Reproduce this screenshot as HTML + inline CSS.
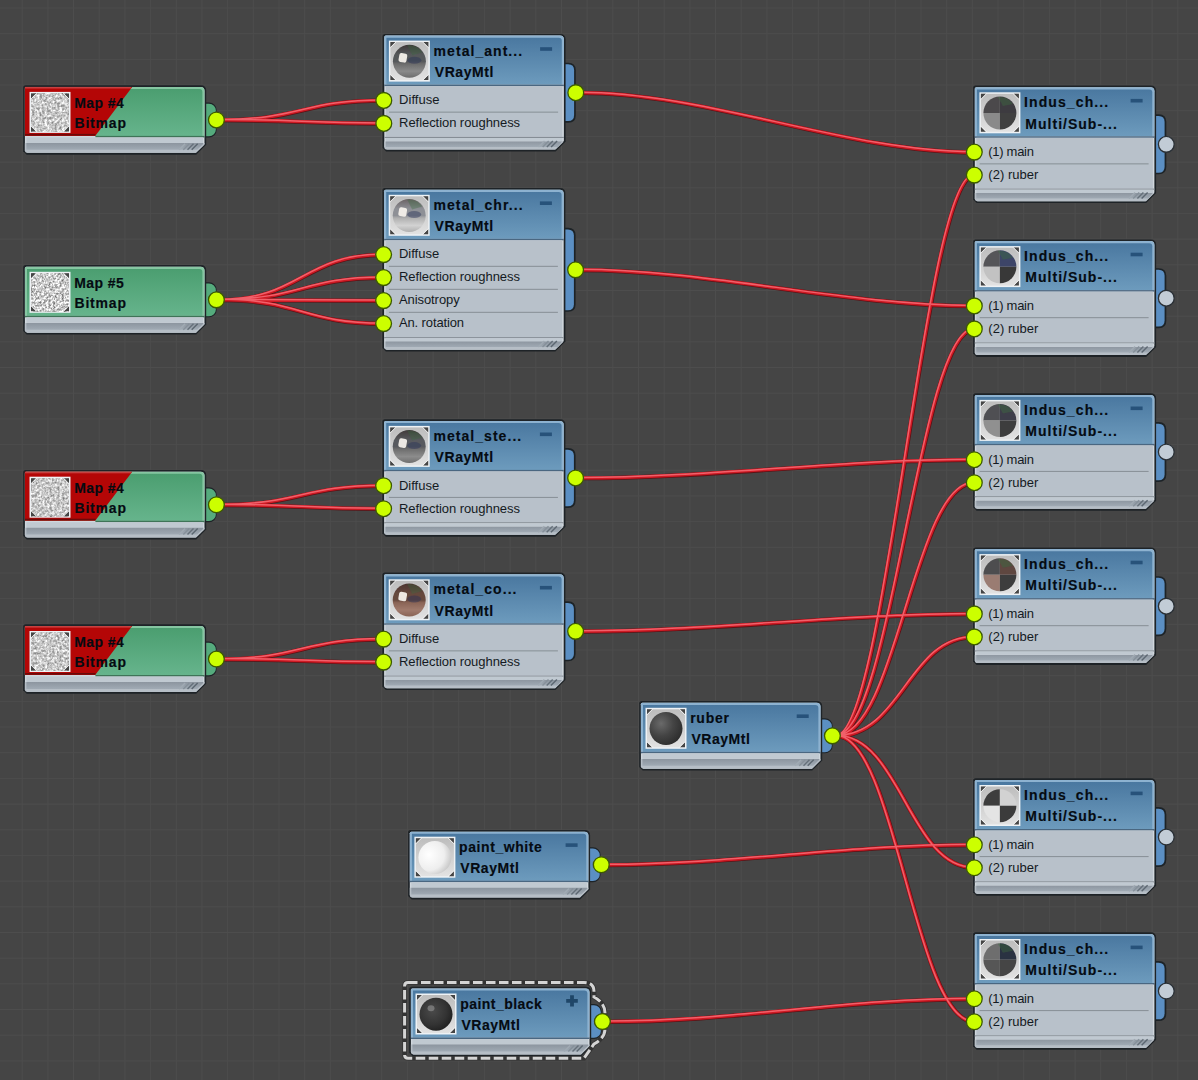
<!DOCTYPE html><html><head><meta charset="utf-8"><style>html,body{margin:0;padding:0;background:#454545;overflow:hidden}svg{display:block}text{font-family:"Liberation Sans",sans-serif}</style></head><body>
<svg width="1198" height="1080" viewBox="0 0 1198 1080">
<defs>
<linearGradient id="gBlue" x1="0" y1="0" x2="0" y2="1"><stop offset="0" stop-color="#4a78a0"/><stop offset="1" stop-color="#6d9bbd"/></linearGradient>
<linearGradient id="gGreen" x1="0" y1="0" x2="0" y2="1"><stop offset="0" stop-color="#4b9e70"/><stop offset="1" stop-color="#66b48c"/></linearGradient>
<linearGradient id="gFoot" x1="0" y1="0" x2="0" y2="1"><stop offset="0" stop-color="#8c959f"/><stop offset="1" stop-color="#a0aab4"/></linearGradient>
<radialGradient id="gMetal" cx="0.4" cy="0.35" r="0.65"><stop offset="0" stop-color="#f0f0f0"/><stop offset="0.2" stop-color="#8a8a8a"/><stop offset="0.7" stop-color="#5a5a5a"/><stop offset="1" stop-color="#3a3a3a"/></radialGradient>
<filter id="fb" x="-10%" y="-10%" width="120%" height="120%"><feGaussianBlur stdDeviation="0.6"/></filter><filter id="fn" x="0" y="0" width="100%" height="100%" color-interpolation-filters="sRGB"><feTurbulence type="fractalNoise" baseFrequency="0.4" numOctaves="3" seed="4"/><feColorMatrix type="matrix" values="0.85 0 0 0 0.36  0.85 0 0 0 0.36  0.85 0 0 0 0.36  0 0 0 0 1"/></filter><filter id="fn2" x="0" y="0" width="100%" height="100%" color-interpolation-filters="sRGB"><feTurbulence type="fractalNoise" baseFrequency="0.45" numOctaves="3" seed="9"/><feColorMatrix type="matrix" values="1.15 0 0 0 0.22  1.15 0 0 0 0.22  1.15 0 0 0 0.22  0 0 0 0 1"/></filter><linearGradient id="tBg" x1="0" y1="0" x2="0" y2="1"><stop offset="0" stop-color="#bdbdbd"/><stop offset="1" stop-color="#e2e2e2"/></linearGradient><linearGradient id="sAnt" x1="0" y1="0" x2="0" y2="1"><stop offset="0" stop-color="#3e3838"/><stop offset="0.3" stop-color="#55585a"/><stop offset="0.5" stop-color="#55585a"/><stop offset="0.58" stop-color="#6c6c6c"/><stop offset="0.8" stop-color="#8a8a8a"/><stop offset="1" stop-color="#6c6c6c"/></linearGradient><linearGradient id="sChr" x1="0" y1="0" x2="0" y2="1"><stop offset="0" stop-color="#6a6264"/><stop offset="0.3" stop-color="#8e9096"/><stop offset="0.5" stop-color="#8e9096"/><stop offset="0.58" stop-color="#b0b0b0"/><stop offset="0.8" stop-color="#d2d2d2"/><stop offset="1" stop-color="#b0b0b0"/></linearGradient><linearGradient id="sSte" x1="0" y1="0" x2="0" y2="1"><stop offset="0" stop-color="#403a3a"/><stop offset="0.3" stop-color="#585a5e"/><stop offset="0.5" stop-color="#585a5e"/><stop offset="0.58" stop-color="#6e6e6e"/><stop offset="0.8" stop-color="#8c8c8c"/><stop offset="1" stop-color="#6e6e6e"/></linearGradient><linearGradient id="sCo" x1="0" y1="0" x2="0" y2="1"><stop offset="0" stop-color="#4c3430"/><stop offset="0.3" stop-color="#66483e"/><stop offset="0.5" stop-color="#66483e"/><stop offset="0.58" stop-color="#8a6456"/><stop offset="0.8" stop-color="#a07a6c"/><stop offset="1" stop-color="#8a6456"/></linearGradient><radialGradient id="sRub" cx="0.35" cy="0.35" r="0.75"><stop offset="0" stop-color="#6a6a6a"/><stop offset="0.5" stop-color="#444"/><stop offset="1" stop-color="#2a2a2a"/></radialGradient><radialGradient id="sWhite" cx="0.32" cy="0.42" r="0.85"><stop offset="0" stop-color="#ffffff"/><stop offset="0.55" stop-color="#eeeeee"/><stop offset="0.85" stop-color="#c4c4c4"/><stop offset="1" stop-color="#9a9a9a"/></radialGradient><radialGradient id="sBlack" cx="0.4" cy="0.4" r="0.7"><stop offset="0" stop-color="#4a4a4a"/><stop offset="0.6" stop-color="#333"/><stop offset="1" stop-color="#1c1c1c"/></radialGradient><radialGradient id="hl" cx="0.5" cy="0.5" r="0.5"><stop offset="0" stop-color="#fff" stop-opacity="1"/><stop offset="0.6" stop-color="#fff" stop-opacity="0.8"/><stop offset="1" stop-color="#fff" stop-opacity="0"/></radialGradient>
</defs>
<rect width="1198" height="1080" fill="#454545"/>
<path d="M-3.5 0V1080M22.2 0V1080M47.9 0V1080M73.5 0V1080M99.2 0V1080M124.9 0V1080M150.6 0V1080M176.3 0V1080M201.9 0V1080M227.6 0V1080M253.3 0V1080M279.0 0V1080M304.7 0V1080M330.3 0V1080M356.0 0V1080M381.7 0V1080M407.4 0V1080M433.1 0V1080M458.7 0V1080M484.4 0V1080M510.1 0V1080M535.8 0V1080M561.5 0V1080M587.1 0V1080M612.8 0V1080M638.5 0V1080M664.2 0V1080M689.9 0V1080M715.5 0V1080M741.2 0V1080M766.9 0V1080M792.6 0V1080M818.3 0V1080M843.9 0V1080M869.6 0V1080M895.3 0V1080M921.0 0V1080M946.7 0V1080M972.3 0V1080M998.0 0V1080M1023.7 0V1080M1049.4 0V1080M1075.1 0V1080M1100.7 0V1080M1126.4 0V1080M1152.1 0V1080M1177.8 0V1080M0 8.0H1198M0 33.7H1198M0 59.4H1198M0 85.0H1198M0 110.7H1198M0 136.4H1198M0 162.1H1198M0 187.8H1198M0 213.4H1198M0 239.1H1198M0 264.8H1198M0 290.5H1198M0 316.2H1198M0 341.8H1198M0 367.5H1198M0 393.2H1198M0 418.9H1198M0 444.6H1198M0 470.2H1198M0 495.9H1198M0 521.6H1198M0 547.3H1198M0 573.0H1198M0 598.6H1198M0 624.3H1198M0 650.0H1198M0 675.7H1198M0 701.4H1198M0 727.0H1198M0 752.7H1198M0 778.4H1198M0 804.1H1198M0 829.8H1198M0 855.4H1198M0 881.1H1198M0 906.8H1198M0 932.5H1198M0 958.2H1198M0 983.8H1198M0 1009.5H1198M0 1035.2H1198M0 1060.9H1198" stroke="#4d4d4d" stroke-width="1" fill="none"/>
<path d="M220.40 119.95C301.42 119.95 302.78 100.40 383.80 100.40M220.40 119.95C301.98 119.95 302.22 123.40 383.80 123.40M220.40 299.85C300.42 299.85 303.58 254.60 383.60 254.60M220.40 299.85C301.22 299.85 302.78 277.60 383.60 277.60M220.40 299.85C301.97 299.85 302.03 300.60 383.60 300.60M220.40 299.85C301.17 299.85 302.83 323.60 383.60 323.60M220.40 504.75C301.33 504.75 302.67 485.70 383.60 485.70M220.40 504.75C301.86 504.75 302.14 508.70 383.60 508.70M220.40 659.05C301.30 659.05 302.70 639.10 383.60 639.10M220.40 659.05C301.89 659.05 302.11 662.10 383.60 662.10M579.80 92.65C707.72 92.65 846.38 152.10 974.30 152.10M579.60 269.85C708.34 269.85 845.56 305.90 974.30 305.90M579.60 477.95C708.96 477.95 844.94 459.70 974.30 459.70M579.60 631.35C708.99 631.35 844.91 613.90 974.30 613.90M605.30 864.75C734.60 864.75 845.00 844.80 974.30 844.80M606.40 1021.55C735.60 1021.55 845.10 998.80 974.30 998.80M836.40 735.85C885.72 735.85 924.98 175.10 974.30 175.10M836.40 735.85C891.11 735.85 919.59 328.90 974.30 328.90M836.40 735.85C896.49 735.85 914.21 482.70 974.30 482.70M836.40 735.85C901.89 735.85 908.81 636.90 974.30 636.90M836.40 735.85C900.73 735.85 909.97 867.80 974.30 867.80M836.40 735.85C895.34 735.85 915.36 1021.80 974.30 1021.80" stroke="#5e1014" stroke-width="4.2" fill="none" transform="translate(0.3 0.3)"/>
<path d="M220.40 119.95C301.42 119.95 302.78 100.40 383.80 100.40M220.40 119.95C301.98 119.95 302.22 123.40 383.80 123.40M220.40 299.85C300.42 299.85 303.58 254.60 383.60 254.60M220.40 299.85C301.22 299.85 302.78 277.60 383.60 277.60M220.40 299.85C301.97 299.85 302.03 300.60 383.60 300.60M220.40 299.85C301.17 299.85 302.83 323.60 383.60 323.60M220.40 504.75C301.33 504.75 302.67 485.70 383.60 485.70M220.40 504.75C301.86 504.75 302.14 508.70 383.60 508.70M220.40 659.05C301.30 659.05 302.70 639.10 383.60 639.10M220.40 659.05C301.89 659.05 302.11 662.10 383.60 662.10M579.80 92.65C707.72 92.65 846.38 152.10 974.30 152.10M579.60 269.85C708.34 269.85 845.56 305.90 974.30 305.90M579.60 477.95C708.96 477.95 844.94 459.70 974.30 459.70M579.60 631.35C708.99 631.35 844.91 613.90 974.30 613.90M605.30 864.75C734.60 864.75 845.00 844.80 974.30 844.80M606.40 1021.55C735.60 1021.55 845.10 998.80 974.30 998.80M836.40 735.85C885.72 735.85 924.98 175.10 974.30 175.10M836.40 735.85C891.11 735.85 919.59 328.90 974.30 328.90M836.40 735.85C896.49 735.85 914.21 482.70 974.30 482.70M836.40 735.85C901.89 735.85 908.81 636.90 974.30 636.90M836.40 735.85C900.73 735.85 909.97 867.80 974.30 867.80M836.40 735.85C895.34 735.85 915.36 1021.80 974.30 1021.80" stroke="#d01a24" stroke-width="3.3" fill="none"/>
<path d="M220.40 119.95C301.42 119.95 302.78 100.40 383.80 100.40M220.40 119.95C301.98 119.95 302.22 123.40 383.80 123.40M220.40 299.85C300.42 299.85 303.58 254.60 383.60 254.60M220.40 299.85C301.22 299.85 302.78 277.60 383.60 277.60M220.40 299.85C301.97 299.85 302.03 300.60 383.60 300.60M220.40 299.85C301.17 299.85 302.83 323.60 383.60 323.60M220.40 504.75C301.33 504.75 302.67 485.70 383.60 485.70M220.40 504.75C301.86 504.75 302.14 508.70 383.60 508.70M220.40 659.05C301.30 659.05 302.70 639.10 383.60 639.10M220.40 659.05C301.89 659.05 302.11 662.10 383.60 662.10M579.80 92.65C707.72 92.65 846.38 152.10 974.30 152.10M579.60 269.85C708.34 269.85 845.56 305.90 974.30 305.90M579.60 477.95C708.96 477.95 844.94 459.70 974.30 459.70M579.60 631.35C708.99 631.35 844.91 613.90 974.30 613.90M605.30 864.75C734.60 864.75 845.00 844.80 974.30 844.80M606.40 1021.55C735.60 1021.55 845.10 998.80 974.30 998.80M836.40 735.85C885.72 735.85 924.98 175.10 974.30 175.10M836.40 735.85C891.11 735.85 919.59 328.90 974.30 328.90M836.40 735.85C896.49 735.85 914.21 482.70 974.30 482.70M836.40 735.85C901.89 735.85 908.81 636.90 974.30 636.90M836.40 735.85C900.73 735.85 909.97 867.80 974.30 867.80M836.40 735.85C895.34 735.85 915.36 1021.80 974.30 1021.80" stroke="#f0606a" stroke-width="1.5" fill="none" transform="translate(-0.5 -0.5)"/>
<path d="M202.20 102.45H209.00A7.7 7.7 0 0 1 209.00 117.85V122.05A7.7 7.7 0 0 1 209.00 137.45H202.20Z" fill="#1d2327"/><path d="M202.20 103.65H209.00A6.9 6.9 0 0 1 209.00 117.45V122.45A6.9 6.9 0 0 1 209.00 136.25H202.20Z" fill="#55ab7d"/><path d="M25.70 85.20H200.70Q206.20 85.20 206.20 90.70V144.70L196.20 154.70H26.70L23.20 151.20V87.70Q23.20 85.20 25.70 85.20Z" fill="#1e2327"/><path d="M26.40 86.90H200.50Q204.50 86.90 204.50 90.90V144.00L195.70 152.80H27.40L24.90 150.30V88.40Q24.90 86.90 26.40 86.90Z" fill="#d0d7dd"/><path d="M26.40 86.90H200.50Q204.50 86.90 204.50 90.90V135.90H24.90V88.40Q24.90 86.90 26.40 86.90Z" fill="#86c6a2"/><path d="M27.00 89.00H199.40Q202.40 89.00 202.40 92.00V135.90H27.00V89.00Z" fill="url(#gGreen)"/><path d="M24.90 86.90H132.20L95.20 135.90H24.90V86.90Z" fill="#b40606"/><rect x="24.90" y="86.90" width="106" height="1.6" fill="#c84040"/><rect x="24.90" y="133.90" width="70.50" height="1.6" fill="#6a0a0a"/><rect x="95.40" y="135.90" width="109.10" height="1.5" fill="#3f7458"/><path d="M24.90 143.00H204.50V144.70L196.20 152.80H27.70Q24.90 152.80 24.90 150.20Z" fill="#b6bec6"/><rect x="26.40" y="137.40" width="176.60" height="5.60" fill="#c0c9d1"/><path d="M26.40 143.00H203.00V144.20L197.20 149.80H26.40Z" fill="url(#gFoot)"/><path d="M191.70 149.80l6 -6" stroke="#5d6872" stroke-width="1.4"/><path d="M187.50 149.80l6 -6" stroke="#66717b" stroke-width="1.4"/><path d="M183.30 149.80l6 -6" stroke="#86909a" stroke-width="1.4"/><path d="M179.10 149.80l6 -6" stroke="#a0aab3" stroke-width="1.4"/><rect x="29.50" y="91.90" width="41" height="41" fill="#eef2f5"/><rect x="31.00" y="93.40" width="38" height="38" fill="url(#tBg)"/><rect x="31.00" y="93.40" width="38" height="38" fill="#ccc" filter="url(#fn)"/><path d="M31.00 93.40h5.0L31.00 98.40z" fill="#454545"/><path d="M36.60 93.40l-5.6 5.6" stroke="#f4f4f4" stroke-width="1" opacity="0.85"/><path d="M69.00 93.40h-5.0L69.00 98.40z" fill="#454545"/><path d="M63.40 93.40l5.6 5.6" stroke="#f4f4f4" stroke-width="1" opacity="0.85"/><path d="M31.00 131.40h5.0L31.00 126.40z" fill="#454545"/><path d="M36.60 131.40l-5.6 -5.6" stroke="#f4f4f4" stroke-width="1" opacity="0.85"/><path d="M69.00 131.40h-5.0L69.00 126.40z" fill="#454545"/><path d="M63.40 131.40l5.6 -5.6" stroke="#f4f4f4" stroke-width="1" opacity="0.85"/><text x="74.20" y="108.00" font-size="14" font-weight="bold" textLength="49.5" lengthAdjust="spacing" fill="#050b12" stroke="#050b12" stroke-width="0.15">Map #4</text><text x="74.50" y="127.80" font-size="14" font-weight="bold" textLength="51.5" lengthAdjust="spacing" fill="#050b12" stroke="#050b12" stroke-width="0.15">Bitmap</text>
<path d="M202.20 282.35H209.00A7.7 7.7 0 0 1 209.00 297.75V301.95A7.7 7.7 0 0 1 209.00 317.35H202.20Z" fill="#1d2327"/><path d="M202.20 283.55H209.00A6.9 6.9 0 0 1 209.00 297.35V302.35A6.9 6.9 0 0 1 209.00 316.15H202.20Z" fill="#55ab7d"/><path d="M25.70 265.10H200.70Q206.20 265.10 206.20 270.60V324.60L196.20 334.60H26.70L23.20 331.10V267.60Q23.20 265.10 25.70 265.10Z" fill="#1e2327"/><path d="M26.40 266.80H200.50Q204.50 266.80 204.50 270.80V323.90L195.70 332.70H27.40L24.90 330.20V268.30Q24.90 266.80 26.40 266.80Z" fill="#d0d7dd"/><path d="M26.40 266.80H200.50Q204.50 266.80 204.50 270.80V315.80H24.90V268.30Q24.90 266.80 26.40 266.80Z" fill="#86c6a2"/><path d="M27.00 268.90H199.40Q202.40 268.90 202.40 271.90V315.80H27.00V268.90Z" fill="url(#gGreen)"/><rect x="24.90" y="315.80" width="179.60" height="1.5" fill="#3f7458"/><path d="M24.90 322.90H204.50V324.60L196.20 332.70H27.70Q24.90 332.70 24.90 330.10Z" fill="#b6bec6"/><rect x="26.40" y="317.30" width="176.60" height="5.60" fill="#c0c9d1"/><path d="M26.40 322.90H203.00V324.10L197.20 329.70H26.40Z" fill="url(#gFoot)"/><path d="M191.70 329.70l6 -6" stroke="#5d6872" stroke-width="1.4"/><path d="M187.50 329.70l6 -6" stroke="#66717b" stroke-width="1.4"/><path d="M183.30 329.70l6 -6" stroke="#86909a" stroke-width="1.4"/><path d="M179.10 329.70l6 -6" stroke="#a0aab3" stroke-width="1.4"/><rect x="29.50" y="271.80" width="41" height="41" fill="#eef2f5"/><rect x="31.00" y="273.30" width="38" height="38" fill="url(#tBg)"/><rect x="31.00" y="273.30" width="38" height="38" fill="#ccc" filter="url(#fn2)"/><path d="M31.00 273.30h5.0L31.00 278.30z" fill="#454545"/><path d="M36.60 273.30l-5.6 5.6" stroke="#f4f4f4" stroke-width="1" opacity="0.85"/><path d="M69.00 273.30h-5.0L69.00 278.30z" fill="#454545"/><path d="M63.40 273.30l5.6 5.6" stroke="#f4f4f4" stroke-width="1" opacity="0.85"/><path d="M31.00 311.30h5.0L31.00 306.30z" fill="#454545"/><path d="M36.60 311.30l-5.6 -5.6" stroke="#f4f4f4" stroke-width="1" opacity="0.85"/><path d="M69.00 311.30h-5.0L69.00 306.30z" fill="#454545"/><path d="M63.40 311.30l5.6 -5.6" stroke="#f4f4f4" stroke-width="1" opacity="0.85"/><text x="74.20" y="287.90" font-size="14" font-weight="bold" textLength="49.5" lengthAdjust="spacing" fill="#050b12" stroke="#050b12" stroke-width="0.15">Map #5</text><text x="74.50" y="307.70" font-size="14" font-weight="bold" textLength="51.5" lengthAdjust="spacing" fill="#050b12" stroke="#050b12" stroke-width="0.15">Bitmap</text>
<path d="M202.20 487.25H209.00A7.7 7.7 0 0 1 209.00 502.65V506.85A7.7 7.7 0 0 1 209.00 522.25H202.20Z" fill="#1d2327"/><path d="M202.20 488.45H209.00A6.9 6.9 0 0 1 209.00 502.25V507.25A6.9 6.9 0 0 1 209.00 521.05H202.20Z" fill="#55ab7d"/><path d="M25.70 470.00H200.70Q206.20 470.00 206.20 475.50V529.50L196.20 539.50H26.70L23.20 536.00V472.50Q23.20 470.00 25.70 470.00Z" fill="#1e2327"/><path d="M26.40 471.70H200.50Q204.50 471.70 204.50 475.70V528.80L195.70 537.60H27.40L24.90 535.10V473.20Q24.90 471.70 26.40 471.70Z" fill="#d0d7dd"/><path d="M26.40 471.70H200.50Q204.50 471.70 204.50 475.70V520.70H24.90V473.20Q24.90 471.70 26.40 471.70Z" fill="#86c6a2"/><path d="M27.00 473.80H199.40Q202.40 473.80 202.40 476.80V520.70H27.00V473.80Z" fill="url(#gGreen)"/><path d="M24.90 471.70H132.20L95.20 520.70H24.90V471.70Z" fill="#b40606"/><rect x="24.90" y="471.70" width="106" height="1.6" fill="#c84040"/><rect x="24.90" y="518.70" width="70.50" height="1.6" fill="#6a0a0a"/><rect x="95.40" y="520.70" width="109.10" height="1.5" fill="#3f7458"/><path d="M24.90 527.80H204.50V529.50L196.20 537.60H27.70Q24.90 537.60 24.90 535.00Z" fill="#b6bec6"/><rect x="26.40" y="522.20" width="176.60" height="5.60" fill="#c0c9d1"/><path d="M26.40 527.80H203.00V529.00L197.20 534.60H26.40Z" fill="url(#gFoot)"/><path d="M191.70 534.60l6 -6" stroke="#5d6872" stroke-width="1.4"/><path d="M187.50 534.60l6 -6" stroke="#66717b" stroke-width="1.4"/><path d="M183.30 534.60l6 -6" stroke="#86909a" stroke-width="1.4"/><path d="M179.10 534.60l6 -6" stroke="#a0aab3" stroke-width="1.4"/><rect x="29.50" y="476.70" width="41" height="41" fill="#eef2f5"/><rect x="31.00" y="478.20" width="38" height="38" fill="url(#tBg)"/><rect x="31.00" y="478.20" width="38" height="38" fill="#ccc" filter="url(#fn)"/><path d="M31.00 478.20h5.0L31.00 483.20z" fill="#454545"/><path d="M36.60 478.20l-5.6 5.6" stroke="#f4f4f4" stroke-width="1" opacity="0.85"/><path d="M69.00 478.20h-5.0L69.00 483.20z" fill="#454545"/><path d="M63.40 478.20l5.6 5.6" stroke="#f4f4f4" stroke-width="1" opacity="0.85"/><path d="M31.00 516.20h5.0L31.00 511.20z" fill="#454545"/><path d="M36.60 516.20l-5.6 -5.6" stroke="#f4f4f4" stroke-width="1" opacity="0.85"/><path d="M69.00 516.20h-5.0L69.00 511.20z" fill="#454545"/><path d="M63.40 516.20l5.6 -5.6" stroke="#f4f4f4" stroke-width="1" opacity="0.85"/><text x="74.20" y="492.80" font-size="14" font-weight="bold" textLength="49.5" lengthAdjust="spacing" fill="#050b12" stroke="#050b12" stroke-width="0.15">Map #4</text><text x="74.50" y="512.60" font-size="14" font-weight="bold" textLength="51.5" lengthAdjust="spacing" fill="#050b12" stroke="#050b12" stroke-width="0.15">Bitmap</text>
<path d="M202.20 641.55H209.00A7.7 7.7 0 0 1 209.00 656.95V661.15A7.7 7.7 0 0 1 209.00 676.55H202.20Z" fill="#1d2327"/><path d="M202.20 642.75H209.00A6.9 6.9 0 0 1 209.00 656.55V661.55A6.9 6.9 0 0 1 209.00 675.35H202.20Z" fill="#55ab7d"/><path d="M25.70 624.30H200.70Q206.20 624.30 206.20 629.80V683.80L196.20 693.80H26.70L23.20 690.30V626.80Q23.20 624.30 25.70 624.30Z" fill="#1e2327"/><path d="M26.40 626.00H200.50Q204.50 626.00 204.50 630.00V683.10L195.70 691.90H27.40L24.90 689.40V627.50Q24.90 626.00 26.40 626.00Z" fill="#d0d7dd"/><path d="M26.40 626.00H200.50Q204.50 626.00 204.50 630.00V675.00H24.90V627.50Q24.90 626.00 26.40 626.00Z" fill="#86c6a2"/><path d="M27.00 628.10H199.40Q202.40 628.10 202.40 631.10V675.00H27.00V628.10Z" fill="url(#gGreen)"/><path d="M24.90 626.00H132.20L95.20 675.00H24.90V626.00Z" fill="#b40606"/><rect x="24.90" y="626.00" width="106" height="1.6" fill="#c84040"/><rect x="24.90" y="673.00" width="70.50" height="1.6" fill="#6a0a0a"/><rect x="95.40" y="675.00" width="109.10" height="1.5" fill="#3f7458"/><path d="M24.90 682.10H204.50V683.80L196.20 691.90H27.70Q24.90 691.90 24.90 689.30Z" fill="#b6bec6"/><rect x="26.40" y="676.50" width="176.60" height="5.60" fill="#c0c9d1"/><path d="M26.40 682.10H203.00V683.30L197.20 688.90H26.40Z" fill="url(#gFoot)"/><path d="M191.70 688.90l6 -6" stroke="#5d6872" stroke-width="1.4"/><path d="M187.50 688.90l6 -6" stroke="#66717b" stroke-width="1.4"/><path d="M183.30 688.90l6 -6" stroke="#86909a" stroke-width="1.4"/><path d="M179.10 688.90l6 -6" stroke="#a0aab3" stroke-width="1.4"/><rect x="29.50" y="631.00" width="41" height="41" fill="#eef2f5"/><rect x="31.00" y="632.50" width="38" height="38" fill="url(#tBg)"/><rect x="31.00" y="632.50" width="38" height="38" fill="#ccc" filter="url(#fn)"/><path d="M31.00 632.50h5.0L31.00 637.50z" fill="#454545"/><path d="M36.60 632.50l-5.6 5.6" stroke="#f4f4f4" stroke-width="1" opacity="0.85"/><path d="M69.00 632.50h-5.0L69.00 637.50z" fill="#454545"/><path d="M63.40 632.50l5.6 5.6" stroke="#f4f4f4" stroke-width="1" opacity="0.85"/><path d="M31.00 670.50h5.0L31.00 665.50z" fill="#454545"/><path d="M36.60 670.50l-5.6 -5.6" stroke="#f4f4f4" stroke-width="1" opacity="0.85"/><path d="M69.00 670.50h-5.0L69.00 665.50z" fill="#454545"/><path d="M63.40 670.50l5.6 -5.6" stroke="#f4f4f4" stroke-width="1" opacity="0.85"/><text x="74.20" y="647.10" font-size="14" font-weight="bold" textLength="49.5" lengthAdjust="spacing" fill="#050b12" stroke="#050b12" stroke-width="0.15">Map #4</text><text x="74.50" y="666.90" font-size="14" font-weight="bold" textLength="51.5" lengthAdjust="spacing" fill="#050b12" stroke="#050b12" stroke-width="0.15">Bitmap</text>
<path d="M561.60 62.65H568.30Q575.80 62.65 575.80 70.15V115.15Q575.80 122.65 568.30 122.65H561.60Z" fill="#1d2327"/><path d="M561.60 64.35H568.10Q574.10 64.35 574.10 70.35V114.95Q574.10 120.95 568.10 120.95H561.60Z" fill="#5b8fc3"/><path d="M385.10 33.90H560.10Q565.60 33.90 565.60 39.40V141.40L555.60 151.40H386.10L382.60 147.90V36.40Q382.60 33.90 385.10 33.90Z" fill="#1e2327"/><path d="M385.80 35.60H559.90Q563.90 35.60 563.90 39.60V140.70L555.10 149.50H386.80L384.30 147.00V37.10Q384.30 35.60 385.80 35.60Z" fill="#d0d7dd"/><path d="M385.80 35.60H559.90Q563.90 35.60 563.90 39.60V84.60H384.30V37.10Q384.30 35.60 385.80 35.60Z" fill="#8db2d0"/><path d="M386.40 37.70H558.80Q561.80 37.70 561.80 40.70V84.60H386.40V37.70Z" fill="url(#gBlue)"/><rect x="384.30" y="84.60" width="179.60" height="1.5" fill="#4a6781"/><rect x="385.80" y="86.10" width="176.60" height="50.80" fill="#b8c1ca"/><rect x="389.10" y="111.60" width="169.00" height="1.1" fill="#8b939a"/><rect x="384.30" y="136.90" width="179.60" height="1.1" fill="#858d95"/><path d="M384.30 141.40H563.90V141.40L555.60 149.50H387.10Q384.30 149.50 384.30 146.90Z" fill="#b6bec6"/><rect x="385.80" y="138.00" width="176.60" height="3.40" fill="#c0c9d1"/><path d="M385.80 141.40H562.40V140.90L557.90 146.90H385.80Z" fill="url(#gFoot)"/><path d="M551.10 146.90l6 -6" stroke="#5d6872" stroke-width="1.4"/><path d="M546.90 146.90l6 -6" stroke="#66717b" stroke-width="1.4"/><path d="M542.70 146.90l6 -6" stroke="#86909a" stroke-width="1.4"/><path d="M538.50 146.90l6 -6" stroke="#a0aab3" stroke-width="1.4"/><rect x="388.90" y="40.60" width="41" height="41" fill="#eef2f5"/><rect x="390.40" y="42.10" width="38" height="38" fill="url(#tBg)"/><g filter="url(#fb)"><circle cx="409.40" cy="61.30" r="16.5" fill="url(#sAnt)"/><path d="M407.40 45.30A16 16 0 0 1 422.40 52.30L412.40 55.30Z" fill="#3a6a40" opacity="0.35"/><ellipse cx="414.40" cy="60.30" rx="7" ry="3.5" fill="#2a3458" opacity="0.45"/><rect x="398.90" y="53.30" width="8" height="9" rx="2" fill="#f4f0ea" opacity="0.95" transform="rotate(10 402.90 57.80)"/></g><path d="M390.40 42.10h5.0L390.40 47.10z" fill="#454545"/><path d="M396.00 42.10l-5.6 5.6" stroke="#f4f4f4" stroke-width="1" opacity="0.85"/><path d="M428.40 42.10h-5.0L428.40 47.10z" fill="#454545"/><path d="M422.80 42.10l5.6 5.6" stroke="#f4f4f4" stroke-width="1" opacity="0.85"/><path d="M390.40 80.10h5.0L390.40 75.10z" fill="#454545"/><path d="M396.00 80.10l-5.6 -5.6" stroke="#f4f4f4" stroke-width="1" opacity="0.85"/><path d="M428.40 80.10h-5.0L428.40 75.10z" fill="#454545"/><path d="M422.80 80.10l5.6 -5.6" stroke="#f4f4f4" stroke-width="1" opacity="0.85"/><text x="433.60" y="55.70" font-size="14" font-weight="bold" textLength="88.5" lengthAdjust="spacing" fill="#050b12" stroke="#050b12" stroke-width="0.15">metal_ant...</text><text x="434.80" y="76.90" font-size="14" font-weight="bold" textLength="58.5" lengthAdjust="spacing" fill="#050b12" stroke="#050b12" stroke-width="0.15">VRayMtl</text><rect x="540.10" y="47.20" width="12" height="3.6" fill="#27527a"/><text x="399.10" y="104.20" font-size="13" textLength="40.3" lengthAdjust="spacing" fill="#141a22">Diffuse</text><text x="399.10" y="127.20" font-size="13" textLength="121.0" lengthAdjust="spacing" fill="#141a22">Reflection roughness</text>
<path d="M561.40 227.85H568.10Q575.60 227.85 575.60 235.35V304.35Q575.60 311.85 568.10 311.85H561.40Z" fill="#1d2327"/><path d="M561.40 229.55H567.90Q573.90 229.55 573.90 235.55V304.15Q573.90 310.15 567.90 310.15H561.40Z" fill="#5b8fc3"/><path d="M384.90 188.10H559.90Q565.40 188.10 565.40 193.60V341.60L555.40 351.60H385.90L382.40 348.10V190.60Q382.40 188.10 384.90 188.10Z" fill="#1e2327"/><path d="M385.60 189.80H559.70Q563.70 189.80 563.70 193.80V340.90L554.90 349.70H386.60L384.10 347.20V191.30Q384.10 189.80 385.60 189.80Z" fill="#d0d7dd"/><path d="M385.60 189.80H559.70Q563.70 189.80 563.70 193.80V238.80H384.10V191.30Q384.10 189.80 385.60 189.80Z" fill="#8db2d0"/><path d="M386.20 191.90H558.60Q561.60 191.90 561.60 194.90V238.80H386.20V191.90Z" fill="url(#gBlue)"/><rect x="384.10" y="238.80" width="179.60" height="1.5" fill="#4a6781"/><rect x="385.60" y="240.30" width="176.60" height="96.80" fill="#b8c1ca"/><rect x="388.90" y="265.80" width="169.00" height="1.1" fill="#8b939a"/><rect x="388.90" y="288.80" width="169.00" height="1.1" fill="#8b939a"/><rect x="388.90" y="311.80" width="169.00" height="1.1" fill="#8b939a"/><rect x="384.10" y="337.10" width="179.60" height="1.1" fill="#858d95"/><path d="M384.10 341.60H563.70V341.60L555.40 349.70H386.90Q384.10 349.70 384.10 347.10Z" fill="#b6bec6"/><rect x="385.60" y="338.20" width="176.60" height="3.40" fill="#c0c9d1"/><path d="M385.60 341.60H562.20V341.10L557.70 347.10H385.60Z" fill="url(#gFoot)"/><path d="M550.90 347.10l6 -6" stroke="#5d6872" stroke-width="1.4"/><path d="M546.70 347.10l6 -6" stroke="#66717b" stroke-width="1.4"/><path d="M542.50 347.10l6 -6" stroke="#86909a" stroke-width="1.4"/><path d="M538.30 347.10l6 -6" stroke="#a0aab3" stroke-width="1.4"/><rect x="388.70" y="194.80" width="41" height="41" fill="#eef2f5"/><rect x="390.20" y="196.30" width="38" height="38" fill="url(#tBg)"/><g filter="url(#fb)"><circle cx="409.20" cy="215.50" r="16.5" fill="url(#sChr)"/><path d="M407.20 199.50A16 16 0 0 1 422.20 206.50L412.20 209.50Z" fill="#3a6a40" opacity="0.35"/><ellipse cx="414.20" cy="214.50" rx="7" ry="3.5" fill="#2a3458" opacity="0.45"/><rect x="398.70" y="207.50" width="8" height="9" rx="2" fill="#f4f0ea" opacity="0.95" transform="rotate(10 402.70 212.00)"/></g><path d="M390.20 196.30h5.0L390.20 201.30z" fill="#454545"/><path d="M395.80 196.30l-5.6 5.6" stroke="#f4f4f4" stroke-width="1" opacity="0.85"/><path d="M428.20 196.30h-5.0L428.20 201.30z" fill="#454545"/><path d="M422.60 196.30l5.6 5.6" stroke="#f4f4f4" stroke-width="1" opacity="0.85"/><path d="M390.20 234.30h5.0L390.20 229.30z" fill="#454545"/><path d="M395.80 234.30l-5.6 -5.6" stroke="#f4f4f4" stroke-width="1" opacity="0.85"/><path d="M428.20 234.30h-5.0L428.20 229.30z" fill="#454545"/><path d="M422.60 234.30l5.6 -5.6" stroke="#f4f4f4" stroke-width="1" opacity="0.85"/><text x="433.40" y="209.90" font-size="14" font-weight="bold" textLength="89.3" lengthAdjust="spacing" fill="#050b12" stroke="#050b12" stroke-width="0.15">metal_chr...</text><text x="434.60" y="231.10" font-size="14" font-weight="bold" textLength="58.5" lengthAdjust="spacing" fill="#050b12" stroke="#050b12" stroke-width="0.15">VRayMtl</text><rect x="539.90" y="201.40" width="12" height="3.6" fill="#27527a"/><text x="398.90" y="258.40" font-size="13" textLength="40.3" lengthAdjust="spacing" fill="#141a22">Diffuse</text><text x="398.90" y="281.40" font-size="13" textLength="121.0" lengthAdjust="spacing" fill="#141a22">Reflection roughness</text><text x="398.90" y="304.40" font-size="13" textLength="60.8" lengthAdjust="spacing" fill="#141a22">Anisotropy</text><text x="398.90" y="327.40" font-size="13" textLength="65.2" lengthAdjust="spacing" fill="#141a22">An. rotation</text>
<path d="M561.40 447.95H568.10Q575.60 447.95 575.60 455.45V500.45Q575.60 507.95 568.10 507.95H561.40Z" fill="#1d2327"/><path d="M561.40 449.65H567.90Q573.90 449.65 573.90 455.65V500.25Q573.90 506.25 567.90 506.25H561.40Z" fill="#5b8fc3"/><path d="M384.90 419.20H559.90Q565.40 419.20 565.40 424.70V526.70L555.40 536.70H385.90L382.40 533.20V421.70Q382.40 419.20 384.90 419.20Z" fill="#1e2327"/><path d="M385.60 420.90H559.70Q563.70 420.90 563.70 424.90V526.00L554.90 534.80H386.60L384.10 532.30V422.40Q384.10 420.90 385.60 420.90Z" fill="#d0d7dd"/><path d="M385.60 420.90H559.70Q563.70 420.90 563.70 424.90V469.90H384.10V422.40Q384.10 420.90 385.60 420.90Z" fill="#8db2d0"/><path d="M386.20 423.00H558.60Q561.60 423.00 561.60 426.00V469.90H386.20V423.00Z" fill="url(#gBlue)"/><rect x="384.10" y="469.90" width="179.60" height="1.5" fill="#4a6781"/><rect x="385.60" y="471.40" width="176.60" height="50.80" fill="#b8c1ca"/><rect x="388.90" y="496.90" width="169.00" height="1.1" fill="#8b939a"/><rect x="384.10" y="522.20" width="179.60" height="1.1" fill="#858d95"/><path d="M384.10 526.70H563.70V526.70L555.40 534.80H386.90Q384.10 534.80 384.10 532.20Z" fill="#b6bec6"/><rect x="385.60" y="523.30" width="176.60" height="3.40" fill="#c0c9d1"/><path d="M385.60 526.70H562.20V526.20L557.70 532.20H385.60Z" fill="url(#gFoot)"/><path d="M550.90 532.20l6 -6" stroke="#5d6872" stroke-width="1.4"/><path d="M546.70 532.20l6 -6" stroke="#66717b" stroke-width="1.4"/><path d="M542.50 532.20l6 -6" stroke="#86909a" stroke-width="1.4"/><path d="M538.30 532.20l6 -6" stroke="#a0aab3" stroke-width="1.4"/><rect x="388.70" y="425.90" width="41" height="41" fill="#eef2f5"/><rect x="390.20" y="427.40" width="38" height="38" fill="url(#tBg)"/><g filter="url(#fb)"><circle cx="409.20" cy="446.60" r="16.5" fill="url(#sSte)"/><path d="M407.20 430.60A16 16 0 0 1 422.20 437.60L412.20 440.60Z" fill="#3a6a40" opacity="0.35"/><ellipse cx="414.20" cy="445.60" rx="7" ry="3.5" fill="#2a3458" opacity="0.45"/><rect x="398.70" y="438.60" width="8" height="9" rx="2" fill="#f4f0ea" opacity="0.95" transform="rotate(10 402.70 443.10)"/></g><path d="M390.20 427.40h5.0L390.20 432.40z" fill="#454545"/><path d="M395.80 427.40l-5.6 5.6" stroke="#f4f4f4" stroke-width="1" opacity="0.85"/><path d="M428.20 427.40h-5.0L428.20 432.40z" fill="#454545"/><path d="M422.60 427.40l5.6 5.6" stroke="#f4f4f4" stroke-width="1" opacity="0.85"/><path d="M390.20 465.40h5.0L390.20 460.40z" fill="#454545"/><path d="M395.80 465.40l-5.6 -5.6" stroke="#f4f4f4" stroke-width="1" opacity="0.85"/><path d="M428.20 465.40h-5.0L428.20 460.40z" fill="#454545"/><path d="M422.60 465.40l5.6 -5.6" stroke="#f4f4f4" stroke-width="1" opacity="0.85"/><text x="433.40" y="441.00" font-size="14" font-weight="bold" textLength="87.8" lengthAdjust="spacing" fill="#050b12" stroke="#050b12" stroke-width="0.15">metal_ste...</text><text x="434.60" y="462.20" font-size="14" font-weight="bold" textLength="58.5" lengthAdjust="spacing" fill="#050b12" stroke="#050b12" stroke-width="0.15">VRayMtl</text><rect x="539.90" y="432.50" width="12" height="3.6" fill="#27527a"/><text x="398.90" y="489.50" font-size="13" textLength="40.3" lengthAdjust="spacing" fill="#141a22">Diffuse</text><text x="398.90" y="512.50" font-size="13" textLength="121.0" lengthAdjust="spacing" fill="#141a22">Reflection roughness</text>
<path d="M561.40 601.35H568.10Q575.60 601.35 575.60 608.85V653.85Q575.60 661.35 568.10 661.35H561.40Z" fill="#1d2327"/><path d="M561.40 603.05H567.90Q573.90 603.05 573.90 609.05V653.65Q573.90 659.65 567.90 659.65H561.40Z" fill="#5b8fc3"/><path d="M384.90 572.60H559.90Q565.40 572.60 565.40 578.10V680.10L555.40 690.10H385.90L382.40 686.60V575.10Q382.40 572.60 384.90 572.60Z" fill="#1e2327"/><path d="M385.60 574.30H559.70Q563.70 574.30 563.70 578.30V679.40L554.90 688.20H386.60L384.10 685.70V575.80Q384.10 574.30 385.60 574.30Z" fill="#d0d7dd"/><path d="M385.60 574.30H559.70Q563.70 574.30 563.70 578.30V623.30H384.10V575.80Q384.10 574.30 385.60 574.30Z" fill="#8db2d0"/><path d="M386.20 576.40H558.60Q561.60 576.40 561.60 579.40V623.30H386.20V576.40Z" fill="url(#gBlue)"/><rect x="384.10" y="623.30" width="179.60" height="1.5" fill="#4a6781"/><rect x="385.60" y="624.80" width="176.60" height="50.80" fill="#b8c1ca"/><rect x="388.90" y="650.30" width="169.00" height="1.1" fill="#8b939a"/><rect x="384.10" y="675.60" width="179.60" height="1.1" fill="#858d95"/><path d="M384.10 680.10H563.70V680.10L555.40 688.20H386.90Q384.10 688.20 384.10 685.60Z" fill="#b6bec6"/><rect x="385.60" y="676.70" width="176.60" height="3.40" fill="#c0c9d1"/><path d="M385.60 680.10H562.20V679.60L557.70 685.60H385.60Z" fill="url(#gFoot)"/><path d="M550.90 685.60l6 -6" stroke="#5d6872" stroke-width="1.4"/><path d="M546.70 685.60l6 -6" stroke="#66717b" stroke-width="1.4"/><path d="M542.50 685.60l6 -6" stroke="#86909a" stroke-width="1.4"/><path d="M538.30 685.60l6 -6" stroke="#a0aab3" stroke-width="1.4"/><rect x="388.70" y="579.30" width="41" height="41" fill="#eef2f5"/><rect x="390.20" y="580.80" width="38" height="38" fill="url(#tBg)"/><g filter="url(#fb)"><circle cx="409.20" cy="600.00" r="16.5" fill="url(#sCo)"/><path d="M407.20 584.00A16 16 0 0 1 422.20 591.00L412.20 594.00Z" fill="#3a6a40" opacity="0.35"/><ellipse cx="414.20" cy="599.00" rx="7" ry="3.5" fill="#2a3458" opacity="0.45"/><rect x="398.70" y="592.00" width="8" height="9" rx="2" fill="#f4f0ea" opacity="0.95" transform="rotate(10 402.70 596.50)"/></g><path d="M390.20 580.80h5.0L390.20 585.80z" fill="#454545"/><path d="M395.80 580.80l-5.6 5.6" stroke="#f4f4f4" stroke-width="1" opacity="0.85"/><path d="M428.20 580.80h-5.0L428.20 585.80z" fill="#454545"/><path d="M422.60 580.80l5.6 5.6" stroke="#f4f4f4" stroke-width="1" opacity="0.85"/><path d="M390.20 618.80h5.0L390.20 613.80z" fill="#454545"/><path d="M395.80 618.80l-5.6 -5.6" stroke="#f4f4f4" stroke-width="1" opacity="0.85"/><path d="M428.20 618.80h-5.0L428.20 613.80z" fill="#454545"/><path d="M422.60 618.80l5.6 -5.6" stroke="#f4f4f4" stroke-width="1" opacity="0.85"/><text x="433.40" y="594.40" font-size="14" font-weight="bold" textLength="83.1" lengthAdjust="spacing" fill="#050b12" stroke="#050b12" stroke-width="0.15">metal_co...</text><text x="434.60" y="615.60" font-size="14" font-weight="bold" textLength="58.5" lengthAdjust="spacing" fill="#050b12" stroke="#050b12" stroke-width="0.15">VRayMtl</text><rect x="539.90" y="585.90" width="12" height="3.6" fill="#27527a"/><text x="398.90" y="642.90" font-size="13" textLength="40.3" lengthAdjust="spacing" fill="#141a22">Diffuse</text><text x="398.90" y="665.90" font-size="13" textLength="121.0" lengthAdjust="spacing" fill="#141a22">Reflection roughness</text>
<path d="M818.20 718.35H825.00A7.7 7.7 0 0 1 825.00 733.75V737.95A7.7 7.7 0 0 1 825.00 753.35H818.20Z" fill="#1d2327"/><path d="M818.20 719.55H825.00A6.9 6.9 0 0 1 825.00 733.35V738.35A6.9 6.9 0 0 1 825.00 752.15H818.20Z" fill="#5b8fc3"/><path d="M641.70 701.10H816.70Q822.20 701.10 822.20 706.60V760.60L812.20 770.60H642.70L639.20 767.10V703.60Q639.20 701.10 641.70 701.10Z" fill="#1e2327"/><path d="M642.40 702.80H816.50Q820.50 702.80 820.50 706.80V759.90L811.70 768.70H643.40L640.90 766.20V704.30Q640.90 702.80 642.40 702.80Z" fill="#d0d7dd"/><path d="M642.40 702.80H816.50Q820.50 702.80 820.50 706.80V751.80H640.90V704.30Q640.90 702.80 642.40 702.80Z" fill="#8db2d0"/><path d="M643.00 704.90H815.40Q818.40 704.90 818.40 707.90V751.80H643.00V704.90Z" fill="url(#gBlue)"/><rect x="640.90" y="751.80" width="179.60" height="1.5" fill="#4a6781"/><path d="M640.90 758.90H820.50V760.60L812.20 768.70H643.70Q640.90 768.70 640.90 766.10Z" fill="#b6bec6"/><rect x="642.40" y="753.30" width="176.60" height="5.60" fill="#c0c9d1"/><path d="M642.40 758.90H819.00V760.10L813.20 765.70H642.40Z" fill="url(#gFoot)"/><path d="M807.70 765.70l6 -6" stroke="#5d6872" stroke-width="1.4"/><path d="M803.50 765.70l6 -6" stroke="#66717b" stroke-width="1.4"/><path d="M799.30 765.70l6 -6" stroke="#86909a" stroke-width="1.4"/><path d="M795.10 765.70l6 -6" stroke="#a0aab3" stroke-width="1.4"/><rect x="645.50" y="707.80" width="41" height="41" fill="#eef2f5"/><rect x="647.00" y="709.30" width="38" height="38" fill="url(#tBg)"/><circle cx="666.00" cy="728.50" r="16.5" fill="url(#sRub)"/><path d="M647.00 709.30h5.0L647.00 714.30z" fill="#454545"/><path d="M652.60 709.30l-5.6 5.6" stroke="#f4f4f4" stroke-width="1" opacity="0.85"/><path d="M685.00 709.30h-5.0L685.00 714.30z" fill="#454545"/><path d="M679.40 709.30l5.6 5.6" stroke="#f4f4f4" stroke-width="1" opacity="0.85"/><path d="M647.00 747.30h5.0L647.00 742.30z" fill="#454545"/><path d="M652.60 747.30l-5.6 -5.6" stroke="#f4f4f4" stroke-width="1" opacity="0.85"/><path d="M685.00 747.30h-5.0L685.00 742.30z" fill="#454545"/><path d="M679.40 747.30l5.6 -5.6" stroke="#f4f4f4" stroke-width="1" opacity="0.85"/><text x="690.20" y="722.90" font-size="14" font-weight="bold" textLength="38.7" lengthAdjust="spacing" fill="#050b12" stroke="#050b12" stroke-width="0.15">ruber</text><text x="691.40" y="744.10" font-size="14" font-weight="bold" textLength="58.5" lengthAdjust="spacing" fill="#050b12" stroke="#050b12" stroke-width="0.15">VRayMtl</text><rect x="796.70" y="714.40" width="12" height="3.6" fill="#27527a"/>
<path d="M586.10 847.25H592.90A7.7 7.7 0 0 1 592.90 862.65V866.85A7.7 7.7 0 0 1 592.90 882.25H586.10Z" fill="#1d2327"/><path d="M586.10 848.45H592.90A6.9 6.9 0 0 1 592.90 862.25V867.25A6.9 6.9 0 0 1 592.90 881.05H586.10Z" fill="#5b8fc3"/><path d="M410.60 830.00H584.60Q590.10 830.00 590.10 835.50V889.50L580.10 899.50H411.60L408.10 896.00V832.50Q408.10 830.00 410.60 830.00Z" fill="#1e2327"/><path d="M411.30 831.70H584.40Q588.40 831.70 588.40 835.70V888.80L579.60 897.60H412.30L409.80 895.10V833.20Q409.80 831.70 411.30 831.70Z" fill="#d0d7dd"/><path d="M411.30 831.70H584.40Q588.40 831.70 588.40 835.70V880.70H409.80V833.20Q409.80 831.70 411.30 831.70Z" fill="#8db2d0"/><path d="M411.90 833.80H583.30Q586.30 833.80 586.30 836.80V880.70H411.90V833.80Z" fill="url(#gBlue)"/><rect x="409.80" y="880.70" width="178.60" height="1.5" fill="#4a6781"/><path d="M409.80 887.80H588.40V889.50L580.10 897.60H412.60Q409.80 897.60 409.80 895.00Z" fill="#b6bec6"/><rect x="411.30" y="882.20" width="175.60" height="5.60" fill="#c0c9d1"/><path d="M411.30 887.80H586.90V889.00L581.10 894.60H411.30Z" fill="url(#gFoot)"/><path d="M575.60 894.60l6 -6" stroke="#5d6872" stroke-width="1.4"/><path d="M571.40 894.60l6 -6" stroke="#66717b" stroke-width="1.4"/><path d="M567.20 894.60l6 -6" stroke="#86909a" stroke-width="1.4"/><path d="M563.00 894.60l6 -6" stroke="#a0aab3" stroke-width="1.4"/><rect x="414.40" y="836.70" width="41" height="41" fill="#eef2f5"/><rect x="415.90" y="838.20" width="38" height="38" fill="url(#tBg)"/><circle cx="434.90" cy="857.40" r="16.5" fill="url(#sWhite)"/><path d="M415.90 838.20h5.0L415.90 843.20z" fill="#454545"/><path d="M421.50 838.20l-5.6 5.6" stroke="#f4f4f4" stroke-width="1" opacity="0.85"/><path d="M453.90 838.20h-5.0L453.90 843.20z" fill="#454545"/><path d="M448.30 838.20l5.6 5.6" stroke="#f4f4f4" stroke-width="1" opacity="0.85"/><path d="M415.90 876.20h5.0L415.90 871.20z" fill="#454545"/><path d="M421.50 876.20l-5.6 -5.6" stroke="#f4f4f4" stroke-width="1" opacity="0.85"/><path d="M453.90 876.20h-5.0L453.90 871.20z" fill="#454545"/><path d="M448.30 876.20l5.6 -5.6" stroke="#f4f4f4" stroke-width="1" opacity="0.85"/><text x="459.10" y="851.80" font-size="14" font-weight="bold" textLength="82.7" lengthAdjust="spacing" fill="#050b12" stroke="#050b12" stroke-width="0.15">paint_white</text><text x="460.30" y="873.00" font-size="14" font-weight="bold" textLength="58.5" lengthAdjust="spacing" fill="#050b12" stroke="#050b12" stroke-width="0.15">VRayMtl</text><rect x="565.60" y="843.30" width="12" height="3.6" fill="#27527a"/>
<path d="M587.20 1004.05H594.00A7.7 7.7 0 0 1 594.00 1019.45V1023.65A7.7 7.7 0 0 1 594.00 1039.05H587.20Z" fill="#1d2327"/><path d="M587.20 1005.25H594.00A6.9 6.9 0 0 1 594.00 1019.05V1024.05A6.9 6.9 0 0 1 594.00 1037.85H587.20Z" fill="#5b8fc3"/><path d="M411.70 986.80H585.70Q591.20 986.80 591.20 992.30V1046.30L581.20 1056.30H412.70L409.20 1052.80V989.30Q409.20 986.80 411.70 986.80Z" fill="#1e2327"/><path d="M412.40 988.50H585.50Q589.50 988.50 589.50 992.50V1045.60L580.70 1054.40H413.40L410.90 1051.90V990.00Q410.90 988.50 412.40 988.50Z" fill="#d0d7dd"/><path d="M412.40 988.50H585.50Q589.50 988.50 589.50 992.50V1037.50H410.90V990.00Q410.90 988.50 412.40 988.50Z" fill="#8db2d0"/><path d="M413.00 990.60H584.40Q587.40 990.60 587.40 993.60V1037.50H413.00V990.60Z" fill="url(#gBlue)"/><rect x="410.90" y="1037.50" width="178.60" height="1.5" fill="#4a6781"/><path d="M410.90 1044.60H589.50V1046.30L581.20 1054.40H413.70Q410.90 1054.40 410.90 1051.80Z" fill="#b6bec6"/><rect x="412.40" y="1039.00" width="175.60" height="5.60" fill="#c0c9d1"/><path d="M412.40 1044.60H588.00V1045.80L582.20 1051.40H412.40Z" fill="url(#gFoot)"/><path d="M576.70 1051.40l6 -6" stroke="#5d6872" stroke-width="1.4"/><path d="M572.50 1051.40l6 -6" stroke="#66717b" stroke-width="1.4"/><path d="M568.30 1051.40l6 -6" stroke="#86909a" stroke-width="1.4"/><path d="M564.10 1051.40l6 -6" stroke="#a0aab3" stroke-width="1.4"/><rect x="415.50" y="993.50" width="41" height="41" fill="#eef2f5"/><rect x="417.00" y="995.00" width="38" height="38" fill="url(#tBg)"/><circle cx="436.00" cy="1014.20" r="16.5" fill="url(#sBlack)"/><ellipse cx="431.00" cy="1008.20" rx="3.5" ry="3" fill="#8a8a8a" opacity="0.7"/><path d="M417.00 995.00h5.0L417.00 1000.00z" fill="#454545"/><path d="M422.60 995.00l-5.6 5.6" stroke="#f4f4f4" stroke-width="1" opacity="0.85"/><path d="M455.00 995.00h-5.0L455.00 1000.00z" fill="#454545"/><path d="M449.40 995.00l5.6 5.6" stroke="#f4f4f4" stroke-width="1" opacity="0.85"/><path d="M417.00 1033.00h5.0L417.00 1028.00z" fill="#454545"/><path d="M422.60 1033.00l-5.6 -5.6" stroke="#f4f4f4" stroke-width="1" opacity="0.85"/><path d="M455.00 1033.00h-5.0L455.00 1028.00z" fill="#454545"/><path d="M449.40 1033.00l5.6 -5.6" stroke="#f4f4f4" stroke-width="1" opacity="0.85"/><text x="460.20" y="1008.60" font-size="14" font-weight="bold" textLength="81.6" lengthAdjust="spacing" fill="#050b12" stroke="#050b12" stroke-width="0.15">paint_black</text><text x="461.40" y="1029.80" font-size="14" font-weight="bold" textLength="58.5" lengthAdjust="spacing" fill="#050b12" stroke="#050b12" stroke-width="0.15">VRayMtl</text><path d="M566.20 999.00h3.9v-3.7h3.8v3.7h3.9v3.8h-3.9v3.7h-3.8v-3.7h-3.9z" fill="#1f4668"/>
<path d="M1152.10 114.35H1158.80Q1166.30 114.35 1166.30 121.85V166.85Q1166.30 174.35 1158.80 174.35H1152.10Z" fill="#1d2327"/><path d="M1152.10 116.05H1158.60Q1164.60 116.05 1164.60 122.05V166.65Q1164.60 172.65 1158.60 172.65H1152.10Z" fill="#5b8fc3"/><path d="M975.60 85.60H1150.60Q1156.10 85.60 1156.10 91.10V193.10L1146.10 203.10H976.60L973.10 199.60V88.10Q973.10 85.60 975.60 85.60Z" fill="#1e2327"/><path d="M976.30 87.30H1150.40Q1154.40 87.30 1154.40 91.30V192.40L1145.60 201.20H977.30L974.80 198.70V88.80Q974.80 87.30 976.30 87.30Z" fill="#d0d7dd"/><path d="M976.30 87.30H1150.40Q1154.40 87.30 1154.40 91.30V136.30H974.80V88.80Q974.80 87.30 976.30 87.30Z" fill="#8db2d0"/><path d="M976.90 89.40H1149.30Q1152.30 89.40 1152.30 92.40V136.30H976.90V89.40Z" fill="url(#gBlue)"/><rect x="974.80" y="136.30" width="179.60" height="1.5" fill="#4a6781"/><rect x="976.30" y="137.80" width="176.60" height="50.80" fill="#b8c1ca"/><rect x="979.60" y="163.30" width="169.00" height="1.1" fill="#8b939a"/><rect x="974.80" y="188.60" width="179.60" height="1.1" fill="#858d95"/><path d="M974.80 193.10H1154.40V193.10L1146.10 201.20H977.60Q974.80 201.20 974.80 198.60Z" fill="#b6bec6"/><rect x="976.30" y="189.70" width="176.60" height="3.40" fill="#c0c9d1"/><path d="M976.30 193.10H1152.90V192.60L1148.40 198.60H976.30Z" fill="url(#gFoot)"/><path d="M1141.60 198.60l6 -6" stroke="#5d6872" stroke-width="1.4"/><path d="M1137.40 198.60l6 -6" stroke="#66717b" stroke-width="1.4"/><path d="M1133.20 198.60l6 -6" stroke="#86909a" stroke-width="1.4"/><path d="M1129.00 198.60l6 -6" stroke="#a0aab3" stroke-width="1.4"/><rect x="979.40" y="92.30" width="41" height="41" fill="#eef2f5"/><rect x="980.90" y="93.80" width="38" height="38" fill="url(#tBg)"/><g filter="url(#fb)"><path d="M999.90 113.00V96.50A16.5 16.5 0 0 0 983.40 113.00Z" fill="#4c4a4c"/><path d="M999.90 113.00V96.50A16.5 16.5 0 0 1 1016.40 113.00Z" fill="#3e3a40"/><path d="M999.90 113.00V129.50A16.5 16.5 0 0 1 983.40 113.00Z" fill="#8a8a8a"/><path d="M999.90 113.00V129.50A16.5 16.5 0 0 0 1016.40 113.00Z" fill="#404040"/><path d="M997.90 97.00A16 16 0 0 1 1012.90 104.00L1002.90 106.00Z" fill="#3a6a40" opacity="0.45"/></g><path d="M980.90 93.80h5.0L980.90 98.80z" fill="#454545"/><path d="M986.50 93.80l-5.6 5.6" stroke="#f4f4f4" stroke-width="1" opacity="0.85"/><path d="M1018.90 93.80h-5.0L1018.90 98.80z" fill="#454545"/><path d="M1013.30 93.80l5.6 5.6" stroke="#f4f4f4" stroke-width="1" opacity="0.85"/><path d="M980.90 131.80h5.0L980.90 126.80z" fill="#454545"/><path d="M986.50 131.80l-5.6 -5.6" stroke="#f4f4f4" stroke-width="1" opacity="0.85"/><path d="M1018.90 131.80h-5.0L1018.90 126.80z" fill="#454545"/><path d="M1013.30 131.80l5.6 -5.6" stroke="#f4f4f4" stroke-width="1" opacity="0.85"/><text x="1024.10" y="107.40" font-size="14" font-weight="bold" textLength="84.0" lengthAdjust="spacing" fill="#050b12" stroke="#050b12" stroke-width="0.15">Indus_ch...</text><text x="1025.30" y="128.60" font-size="14" font-weight="bold" textLength="91.5" lengthAdjust="spacing" fill="#050b12" stroke="#050b12" stroke-width="0.15">Multi/Sub-...</text><rect x="1130.60" y="98.90" width="12" height="3.6" fill="#27527a"/><text x="988.30" y="155.90" font-size="13" textLength="45.6" lengthAdjust="spacing" fill="#141a22">(1) main</text><text x="988.30" y="178.90" font-size="13" textLength="50.1" lengthAdjust="spacing" fill="#141a22">(2) ruber</text>
<path d="M1152.10 268.15H1158.80Q1166.30 268.15 1166.30 275.65V320.65Q1166.30 328.15 1158.80 328.15H1152.10Z" fill="#1d2327"/><path d="M1152.10 269.85H1158.60Q1164.60 269.85 1164.60 275.85V320.45Q1164.60 326.45 1158.60 326.45H1152.10Z" fill="#5b8fc3"/><path d="M975.60 239.40H1150.60Q1156.10 239.40 1156.10 244.90V346.90L1146.10 356.90H976.60L973.10 353.40V241.90Q973.10 239.40 975.60 239.40Z" fill="#1e2327"/><path d="M976.30 241.10H1150.40Q1154.40 241.10 1154.40 245.10V346.20L1145.60 355.00H977.30L974.80 352.50V242.60Q974.80 241.10 976.30 241.10Z" fill="#d0d7dd"/><path d="M976.30 241.10H1150.40Q1154.40 241.10 1154.40 245.10V290.10H974.80V242.60Q974.80 241.10 976.30 241.10Z" fill="#8db2d0"/><path d="M976.90 243.20H1149.30Q1152.30 243.20 1152.30 246.20V290.10H976.90V243.20Z" fill="url(#gBlue)"/><rect x="974.80" y="290.10" width="179.60" height="1.5" fill="#4a6781"/><rect x="976.30" y="291.60" width="176.60" height="50.80" fill="#b8c1ca"/><rect x="979.60" y="317.10" width="169.00" height="1.1" fill="#8b939a"/><rect x="974.80" y="342.40" width="179.60" height="1.1" fill="#858d95"/><path d="M974.80 346.90H1154.40V346.90L1146.10 355.00H977.60Q974.80 355.00 974.80 352.40Z" fill="#b6bec6"/><rect x="976.30" y="343.50" width="176.60" height="3.40" fill="#c0c9d1"/><path d="M976.30 346.90H1152.90V346.40L1148.40 352.40H976.30Z" fill="url(#gFoot)"/><path d="M1141.60 352.40l6 -6" stroke="#5d6872" stroke-width="1.4"/><path d="M1137.40 352.40l6 -6" stroke="#66717b" stroke-width="1.4"/><path d="M1133.20 352.40l6 -6" stroke="#86909a" stroke-width="1.4"/><path d="M1129.00 352.40l6 -6" stroke="#a0aab3" stroke-width="1.4"/><rect x="979.40" y="246.10" width="41" height="41" fill="#eef2f5"/><rect x="980.90" y="247.60" width="38" height="38" fill="url(#tBg)"/><g filter="url(#fb)"><path d="M999.90 266.80V250.30A16.5 16.5 0 0 0 983.40 266.80Z" fill="#555558"/><path d="M999.90 266.80V250.30A16.5 16.5 0 0 1 1016.40 266.80Z" fill="#3c4468"/><path d="M999.90 266.80V283.30A16.5 16.5 0 0 1 983.40 266.80Z" fill="#c2c2c2"/><path d="M999.90 266.80V283.30A16.5 16.5 0 0 0 1016.40 266.80Z" fill="#383838"/><path d="M997.90 250.80A16 16 0 0 1 1012.90 257.80L1002.90 259.80Z" fill="#3a6a40" opacity="0.45"/></g><path d="M980.90 247.60h5.0L980.90 252.60z" fill="#454545"/><path d="M986.50 247.60l-5.6 5.6" stroke="#f4f4f4" stroke-width="1" opacity="0.85"/><path d="M1018.90 247.60h-5.0L1018.90 252.60z" fill="#454545"/><path d="M1013.30 247.60l5.6 5.6" stroke="#f4f4f4" stroke-width="1" opacity="0.85"/><path d="M980.90 285.60h5.0L980.90 280.60z" fill="#454545"/><path d="M986.50 285.60l-5.6 -5.6" stroke="#f4f4f4" stroke-width="1" opacity="0.85"/><path d="M1018.90 285.60h-5.0L1018.90 280.60z" fill="#454545"/><path d="M1013.30 285.60l5.6 -5.6" stroke="#f4f4f4" stroke-width="1" opacity="0.85"/><text x="1024.10" y="261.20" font-size="14" font-weight="bold" textLength="84.0" lengthAdjust="spacing" fill="#050b12" stroke="#050b12" stroke-width="0.15">Indus_ch...</text><text x="1025.30" y="282.40" font-size="14" font-weight="bold" textLength="91.5" lengthAdjust="spacing" fill="#050b12" stroke="#050b12" stroke-width="0.15">Multi/Sub-...</text><rect x="1130.60" y="252.70" width="12" height="3.6" fill="#27527a"/><text x="988.30" y="309.70" font-size="13" textLength="45.6" lengthAdjust="spacing" fill="#141a22">(1) main</text><text x="988.30" y="332.70" font-size="13" textLength="50.1" lengthAdjust="spacing" fill="#141a22">(2) ruber</text>
<path d="M1152.10 421.95H1158.80Q1166.30 421.95 1166.30 429.45V474.45Q1166.30 481.95 1158.80 481.95H1152.10Z" fill="#1d2327"/><path d="M1152.10 423.65H1158.60Q1164.60 423.65 1164.60 429.65V474.25Q1164.60 480.25 1158.60 480.25H1152.10Z" fill="#5b8fc3"/><path d="M975.60 393.20H1150.60Q1156.10 393.20 1156.10 398.70V500.70L1146.10 510.70H976.60L973.10 507.20V395.70Q973.10 393.20 975.60 393.20Z" fill="#1e2327"/><path d="M976.30 394.90H1150.40Q1154.40 394.90 1154.40 398.90V500.00L1145.60 508.80H977.30L974.80 506.30V396.40Q974.80 394.90 976.30 394.90Z" fill="#d0d7dd"/><path d="M976.30 394.90H1150.40Q1154.40 394.90 1154.40 398.90V443.90H974.80V396.40Q974.80 394.90 976.30 394.90Z" fill="#8db2d0"/><path d="M976.90 397.00H1149.30Q1152.30 397.00 1152.30 400.00V443.90H976.90V397.00Z" fill="url(#gBlue)"/><rect x="974.80" y="443.90" width="179.60" height="1.5" fill="#4a6781"/><rect x="976.30" y="445.40" width="176.60" height="50.80" fill="#b8c1ca"/><rect x="979.60" y="470.90" width="169.00" height="1.1" fill="#8b939a"/><rect x="974.80" y="496.20" width="179.60" height="1.1" fill="#858d95"/><path d="M974.80 500.70H1154.40V500.70L1146.10 508.80H977.60Q974.80 508.80 974.80 506.20Z" fill="#b6bec6"/><rect x="976.30" y="497.30" width="176.60" height="3.40" fill="#c0c9d1"/><path d="M976.30 500.70H1152.90V500.20L1148.40 506.20H976.30Z" fill="url(#gFoot)"/><path d="M1141.60 506.20l6 -6" stroke="#5d6872" stroke-width="1.4"/><path d="M1137.40 506.20l6 -6" stroke="#66717b" stroke-width="1.4"/><path d="M1133.20 506.20l6 -6" stroke="#86909a" stroke-width="1.4"/><path d="M1129.00 506.20l6 -6" stroke="#a0aab3" stroke-width="1.4"/><rect x="979.40" y="399.90" width="41" height="41" fill="#eef2f5"/><rect x="980.90" y="401.40" width="38" height="38" fill="url(#tBg)"/><g filter="url(#fb)"><path d="M999.90 420.60V404.10A16.5 16.5 0 0 0 983.40 420.60Z" fill="#505052"/><path d="M999.90 420.60V404.10A16.5 16.5 0 0 1 1016.40 420.60Z" fill="#3e3c48"/><path d="M999.90 420.60V437.10A16.5 16.5 0 0 1 983.40 420.60Z" fill="#909090"/><path d="M999.90 420.60V437.10A16.5 16.5 0 0 0 1016.40 420.60Z" fill="#3c3c3c"/><path d="M997.90 404.60A16 16 0 0 1 1012.90 411.60L1002.90 413.60Z" fill="#3a6a40" opacity="0.45"/></g><path d="M980.90 401.40h5.0L980.90 406.40z" fill="#454545"/><path d="M986.50 401.40l-5.6 5.6" stroke="#f4f4f4" stroke-width="1" opacity="0.85"/><path d="M1018.90 401.40h-5.0L1018.90 406.40z" fill="#454545"/><path d="M1013.30 401.40l5.6 5.6" stroke="#f4f4f4" stroke-width="1" opacity="0.85"/><path d="M980.90 439.40h5.0L980.90 434.40z" fill="#454545"/><path d="M986.50 439.40l-5.6 -5.6" stroke="#f4f4f4" stroke-width="1" opacity="0.85"/><path d="M1018.90 439.40h-5.0L1018.90 434.40z" fill="#454545"/><path d="M1013.30 439.40l5.6 -5.6" stroke="#f4f4f4" stroke-width="1" opacity="0.85"/><text x="1024.10" y="415.00" font-size="14" font-weight="bold" textLength="84.0" lengthAdjust="spacing" fill="#050b12" stroke="#050b12" stroke-width="0.15">Indus_ch...</text><text x="1025.30" y="436.20" font-size="14" font-weight="bold" textLength="91.5" lengthAdjust="spacing" fill="#050b12" stroke="#050b12" stroke-width="0.15">Multi/Sub-...</text><rect x="1130.60" y="406.50" width="12" height="3.6" fill="#27527a"/><text x="988.30" y="463.50" font-size="13" textLength="45.6" lengthAdjust="spacing" fill="#141a22">(1) main</text><text x="988.30" y="486.50" font-size="13" textLength="50.1" lengthAdjust="spacing" fill="#141a22">(2) ruber</text>
<path d="M1152.10 576.15H1158.80Q1166.30 576.15 1166.30 583.65V628.65Q1166.30 636.15 1158.80 636.15H1152.10Z" fill="#1d2327"/><path d="M1152.10 577.85H1158.60Q1164.60 577.85 1164.60 583.85V628.45Q1164.60 634.45 1158.60 634.45H1152.10Z" fill="#5b8fc3"/><path d="M975.60 547.40H1150.60Q1156.10 547.40 1156.10 552.90V654.90L1146.10 664.90H976.60L973.10 661.40V549.90Q973.10 547.40 975.60 547.40Z" fill="#1e2327"/><path d="M976.30 549.10H1150.40Q1154.40 549.10 1154.40 553.10V654.20L1145.60 663.00H977.30L974.80 660.50V550.60Q974.80 549.10 976.30 549.10Z" fill="#d0d7dd"/><path d="M976.30 549.10H1150.40Q1154.40 549.10 1154.40 553.10V598.10H974.80V550.60Q974.80 549.10 976.30 549.10Z" fill="#8db2d0"/><path d="M976.90 551.20H1149.30Q1152.30 551.20 1152.30 554.20V598.10H976.90V551.20Z" fill="url(#gBlue)"/><rect x="974.80" y="598.10" width="179.60" height="1.5" fill="#4a6781"/><rect x="976.30" y="599.60" width="176.60" height="50.80" fill="#b8c1ca"/><rect x="979.60" y="625.10" width="169.00" height="1.1" fill="#8b939a"/><rect x="974.80" y="650.40" width="179.60" height="1.1" fill="#858d95"/><path d="M974.80 654.90H1154.40V654.90L1146.10 663.00H977.60Q974.80 663.00 974.80 660.40Z" fill="#b6bec6"/><rect x="976.30" y="651.50" width="176.60" height="3.40" fill="#c0c9d1"/><path d="M976.30 654.90H1152.90V654.40L1148.40 660.40H976.30Z" fill="url(#gFoot)"/><path d="M1141.60 660.40l6 -6" stroke="#5d6872" stroke-width="1.4"/><path d="M1137.40 660.40l6 -6" stroke="#66717b" stroke-width="1.4"/><path d="M1133.20 660.40l6 -6" stroke="#86909a" stroke-width="1.4"/><path d="M1129.00 660.40l6 -6" stroke="#a0aab3" stroke-width="1.4"/><rect x="979.40" y="554.10" width="41" height="41" fill="#eef2f5"/><rect x="980.90" y="555.60" width="38" height="38" fill="url(#tBg)"/><g filter="url(#fb)"><path d="M999.90 574.80V558.30A16.5 16.5 0 0 0 983.40 574.80Z" fill="#4e4e50"/><path d="M999.90 574.80V558.30A16.5 16.5 0 0 1 1016.40 574.80Z" fill="#5e4640"/><path d="M999.90 574.80V591.30A16.5 16.5 0 0 1 983.40 574.80Z" fill="#9a7c72"/><path d="M999.90 574.80V591.30A16.5 16.5 0 0 0 1016.40 574.80Z" fill="#3c3c3c"/><path d="M997.90 558.80A16 16 0 0 1 1012.90 565.80L1002.90 567.80Z" fill="#3a6a40" opacity="0.45"/></g><path d="M980.90 555.60h5.0L980.90 560.60z" fill="#454545"/><path d="M986.50 555.60l-5.6 5.6" stroke="#f4f4f4" stroke-width="1" opacity="0.85"/><path d="M1018.90 555.60h-5.0L1018.90 560.60z" fill="#454545"/><path d="M1013.30 555.60l5.6 5.6" stroke="#f4f4f4" stroke-width="1" opacity="0.85"/><path d="M980.90 593.60h5.0L980.90 588.60z" fill="#454545"/><path d="M986.50 593.60l-5.6 -5.6" stroke="#f4f4f4" stroke-width="1" opacity="0.85"/><path d="M1018.90 593.60h-5.0L1018.90 588.60z" fill="#454545"/><path d="M1013.30 593.60l5.6 -5.6" stroke="#f4f4f4" stroke-width="1" opacity="0.85"/><text x="1024.10" y="569.20" font-size="14" font-weight="bold" textLength="84.0" lengthAdjust="spacing" fill="#050b12" stroke="#050b12" stroke-width="0.15">Indus_ch...</text><text x="1025.30" y="590.40" font-size="14" font-weight="bold" textLength="91.5" lengthAdjust="spacing" fill="#050b12" stroke="#050b12" stroke-width="0.15">Multi/Sub-...</text><rect x="1130.60" y="560.70" width="12" height="3.6" fill="#27527a"/><text x="988.30" y="617.70" font-size="13" textLength="45.6" lengthAdjust="spacing" fill="#141a22">(1) main</text><text x="988.30" y="640.70" font-size="13" textLength="50.1" lengthAdjust="spacing" fill="#141a22">(2) ruber</text>
<path d="M1152.10 807.05H1158.80Q1166.30 807.05 1166.30 814.55V859.55Q1166.30 867.05 1158.80 867.05H1152.10Z" fill="#1d2327"/><path d="M1152.10 808.75H1158.60Q1164.60 808.75 1164.60 814.75V859.35Q1164.60 865.35 1158.60 865.35H1152.10Z" fill="#5b8fc3"/><path d="M975.60 778.30H1150.60Q1156.10 778.30 1156.10 783.80V885.80L1146.10 895.80H976.60L973.10 892.30V780.80Q973.10 778.30 975.60 778.30Z" fill="#1e2327"/><path d="M976.30 780.00H1150.40Q1154.40 780.00 1154.40 784.00V885.10L1145.60 893.90H977.30L974.80 891.40V781.50Q974.80 780.00 976.30 780.00Z" fill="#d0d7dd"/><path d="M976.30 780.00H1150.40Q1154.40 780.00 1154.40 784.00V829.00H974.80V781.50Q974.80 780.00 976.30 780.00Z" fill="#8db2d0"/><path d="M976.90 782.10H1149.30Q1152.30 782.10 1152.30 785.10V829.00H976.90V782.10Z" fill="url(#gBlue)"/><rect x="974.80" y="829.00" width="179.60" height="1.5" fill="#4a6781"/><rect x="976.30" y="830.50" width="176.60" height="50.80" fill="#b8c1ca"/><rect x="979.60" y="856.00" width="169.00" height="1.1" fill="#8b939a"/><rect x="974.80" y="881.30" width="179.60" height="1.1" fill="#858d95"/><path d="M974.80 885.80H1154.40V885.80L1146.10 893.90H977.60Q974.80 893.90 974.80 891.30Z" fill="#b6bec6"/><rect x="976.30" y="882.40" width="176.60" height="3.40" fill="#c0c9d1"/><path d="M976.30 885.80H1152.90V885.30L1148.40 891.30H976.30Z" fill="url(#gFoot)"/><path d="M1141.60 891.30l6 -6" stroke="#5d6872" stroke-width="1.4"/><path d="M1137.40 891.30l6 -6" stroke="#66717b" stroke-width="1.4"/><path d="M1133.20 891.30l6 -6" stroke="#86909a" stroke-width="1.4"/><path d="M1129.00 891.30l6 -6" stroke="#a0aab3" stroke-width="1.4"/><rect x="979.40" y="785.00" width="41" height="41" fill="#eef2f5"/><rect x="980.90" y="786.50" width="38" height="38" fill="url(#tBg)"/><g filter="url(#fb)"><path d="M999.90 805.70V789.20A16.5 16.5 0 0 0 983.40 805.70Z" fill="#3c3c3c"/><path d="M999.90 805.70V789.20A16.5 16.5 0 0 1 1016.40 805.70Z" fill="#d2d2d2"/><path d="M999.90 805.70V822.20A16.5 16.5 0 0 1 983.40 805.70Z" fill="#e4e4e4"/><path d="M999.90 805.70V822.20A16.5 16.5 0 0 0 1016.40 805.70Z" fill="#3a3a3a"/></g><path d="M980.90 786.50h5.0L980.90 791.50z" fill="#454545"/><path d="M986.50 786.50l-5.6 5.6" stroke="#f4f4f4" stroke-width="1" opacity="0.85"/><path d="M1018.90 786.50h-5.0L1018.90 791.50z" fill="#454545"/><path d="M1013.30 786.50l5.6 5.6" stroke="#f4f4f4" stroke-width="1" opacity="0.85"/><path d="M980.90 824.50h5.0L980.90 819.50z" fill="#454545"/><path d="M986.50 824.50l-5.6 -5.6" stroke="#f4f4f4" stroke-width="1" opacity="0.85"/><path d="M1018.90 824.50h-5.0L1018.90 819.50z" fill="#454545"/><path d="M1013.30 824.50l5.6 -5.6" stroke="#f4f4f4" stroke-width="1" opacity="0.85"/><text x="1024.10" y="800.10" font-size="14" font-weight="bold" textLength="84.0" lengthAdjust="spacing" fill="#050b12" stroke="#050b12" stroke-width="0.15">Indus_ch...</text><text x="1025.30" y="821.30" font-size="14" font-weight="bold" textLength="91.5" lengthAdjust="spacing" fill="#050b12" stroke="#050b12" stroke-width="0.15">Multi/Sub-...</text><rect x="1130.60" y="791.60" width="12" height="3.6" fill="#27527a"/><text x="988.30" y="848.60" font-size="13" textLength="45.6" lengthAdjust="spacing" fill="#141a22">(1) main</text><text x="988.30" y="871.60" font-size="13" textLength="50.1" lengthAdjust="spacing" fill="#141a22">(2) ruber</text>
<path d="M1152.10 961.05H1158.80Q1166.30 961.05 1166.30 968.55V1013.55Q1166.30 1021.05 1158.80 1021.05H1152.10Z" fill="#1d2327"/><path d="M1152.10 962.75H1158.60Q1164.60 962.75 1164.60 968.75V1013.35Q1164.60 1019.35 1158.60 1019.35H1152.10Z" fill="#5b8fc3"/><path d="M975.60 932.30H1150.60Q1156.10 932.30 1156.10 937.80V1039.80L1146.10 1049.80H976.60L973.10 1046.30V934.80Q973.10 932.30 975.60 932.30Z" fill="#1e2327"/><path d="M976.30 934.00H1150.40Q1154.40 934.00 1154.40 938.00V1039.10L1145.60 1047.90H977.30L974.80 1045.40V935.50Q974.80 934.00 976.30 934.00Z" fill="#d0d7dd"/><path d="M976.30 934.00H1150.40Q1154.40 934.00 1154.40 938.00V983.00H974.80V935.50Q974.80 934.00 976.30 934.00Z" fill="#8db2d0"/><path d="M976.90 936.10H1149.30Q1152.30 936.10 1152.30 939.10V983.00H976.90V936.10Z" fill="url(#gBlue)"/><rect x="974.80" y="983.00" width="179.60" height="1.5" fill="#4a6781"/><rect x="976.30" y="984.50" width="176.60" height="50.80" fill="#b8c1ca"/><rect x="979.60" y="1010.00" width="169.00" height="1.1" fill="#8b939a"/><rect x="974.80" y="1035.30" width="179.60" height="1.1" fill="#858d95"/><path d="M974.80 1039.80H1154.40V1039.80L1146.10 1047.90H977.60Q974.80 1047.90 974.80 1045.30Z" fill="#b6bec6"/><rect x="976.30" y="1036.40" width="176.60" height="3.40" fill="#c0c9d1"/><path d="M976.30 1039.80H1152.90V1039.30L1148.40 1045.30H976.30Z" fill="url(#gFoot)"/><path d="M1141.60 1045.30l6 -6" stroke="#5d6872" stroke-width="1.4"/><path d="M1137.40 1045.30l6 -6" stroke="#66717b" stroke-width="1.4"/><path d="M1133.20 1045.30l6 -6" stroke="#86909a" stroke-width="1.4"/><path d="M1129.00 1045.30l6 -6" stroke="#a0aab3" stroke-width="1.4"/><rect x="979.40" y="939.00" width="41" height="41" fill="#eef2f5"/><rect x="980.90" y="940.50" width="38" height="38" fill="url(#tBg)"/><g filter="url(#fb)"><path d="M999.90 959.70V943.20A16.5 16.5 0 0 0 983.40 959.70Z" fill="#6e6e6e"/><path d="M999.90 959.70V943.20A16.5 16.5 0 0 1 1016.40 959.70Z" fill="#2c3042"/><path d="M999.90 959.70V976.20A16.5 16.5 0 0 1 983.40 959.70Z" fill="#565656"/><path d="M999.90 959.70V976.20A16.5 16.5 0 0 0 1016.40 959.70Z" fill="#454545"/><path d="M997.90 943.70A16 16 0 0 1 1012.90 950.70L1002.90 952.70Z" fill="#3a6a40" opacity="0.45"/></g><path d="M980.90 940.50h5.0L980.90 945.50z" fill="#454545"/><path d="M986.50 940.50l-5.6 5.6" stroke="#f4f4f4" stroke-width="1" opacity="0.85"/><path d="M1018.90 940.50h-5.0L1018.90 945.50z" fill="#454545"/><path d="M1013.30 940.50l5.6 5.6" stroke="#f4f4f4" stroke-width="1" opacity="0.85"/><path d="M980.90 978.50h5.0L980.90 973.50z" fill="#454545"/><path d="M986.50 978.50l-5.6 -5.6" stroke="#f4f4f4" stroke-width="1" opacity="0.85"/><path d="M1018.90 978.50h-5.0L1018.90 973.50z" fill="#454545"/><path d="M1013.30 978.50l5.6 -5.6" stroke="#f4f4f4" stroke-width="1" opacity="0.85"/><text x="1024.10" y="954.10" font-size="14" font-weight="bold" textLength="84.0" lengthAdjust="spacing" fill="#050b12" stroke="#050b12" stroke-width="0.15">Indus_ch...</text><text x="1025.30" y="975.30" font-size="14" font-weight="bold" textLength="91.5" lengthAdjust="spacing" fill="#050b12" stroke="#050b12" stroke-width="0.15">Multi/Sub-...</text><rect x="1130.60" y="945.60" width="12" height="3.6" fill="#27527a"/><text x="988.30" y="1002.60" font-size="13" textLength="45.6" lengthAdjust="spacing" fill="#141a22">(1) main</text><text x="988.30" y="1025.60" font-size="13" textLength="50.1" lengthAdjust="spacing" fill="#141a22">(2) ruber</text>
<path d="M408 982.5H584Q594 982.5 594 991.5V997Q605 1003 605 1013V1029Q605 1038 594 1044L584 1058.3H408Q404.6 1058.3 404.6 1055V986Q404.6 982.5 408 982.5Z" fill="none" stroke="#333" stroke-width="4.6"/>
<path d="M408 982.5H584Q594 982.5 594 991.5V997Q605 1003 605 1013V1029Q605 1038 594 1044L584 1058.3H408Q404.6 1058.3 404.6 1055V986Q404.6 982.5 408 982.5Z" fill="none" stroke="#d4d4d4" stroke-width="3" stroke-dasharray="9.5 3.5"/>
<circle cx="216.40" cy="119.95" r="7.9" fill="#ccff00" stroke="#3d5a00" stroke-width="1.3"/>
<circle cx="216.40" cy="299.85" r="7.9" fill="#ccff00" stroke="#3d5a00" stroke-width="1.3"/>
<circle cx="216.40" cy="504.75" r="7.9" fill="#ccff00" stroke="#3d5a00" stroke-width="1.3"/>
<circle cx="216.40" cy="659.05" r="7.9" fill="#ccff00" stroke="#3d5a00" stroke-width="1.3"/>
<circle cx="383.80" cy="100.40" r="7.9" fill="#ccff00" stroke="#3d5a00" stroke-width="1.3"/>
<circle cx="383.80" cy="123.40" r="7.9" fill="#ccff00" stroke="#3d5a00" stroke-width="1.3"/>
<circle cx="575.80" cy="92.65" r="7.9" fill="#ccff00" stroke="#3d5a00" stroke-width="1.3"/>
<circle cx="383.60" cy="254.60" r="7.9" fill="#ccff00" stroke="#3d5a00" stroke-width="1.3"/>
<circle cx="383.60" cy="277.60" r="7.9" fill="#ccff00" stroke="#3d5a00" stroke-width="1.3"/>
<circle cx="383.60" cy="300.60" r="7.9" fill="#ccff00" stroke="#3d5a00" stroke-width="1.3"/>
<circle cx="383.60" cy="323.60" r="7.9" fill="#ccff00" stroke="#3d5a00" stroke-width="1.3"/>
<circle cx="575.60" cy="269.85" r="7.9" fill="#ccff00" stroke="#3d5a00" stroke-width="1.3"/>
<circle cx="383.60" cy="485.70" r="7.9" fill="#ccff00" stroke="#3d5a00" stroke-width="1.3"/>
<circle cx="383.60" cy="508.70" r="7.9" fill="#ccff00" stroke="#3d5a00" stroke-width="1.3"/>
<circle cx="575.60" cy="477.95" r="7.9" fill="#ccff00" stroke="#3d5a00" stroke-width="1.3"/>
<circle cx="383.60" cy="639.10" r="7.9" fill="#ccff00" stroke="#3d5a00" stroke-width="1.3"/>
<circle cx="383.60" cy="662.10" r="7.9" fill="#ccff00" stroke="#3d5a00" stroke-width="1.3"/>
<circle cx="575.60" cy="631.35" r="7.9" fill="#ccff00" stroke="#3d5a00" stroke-width="1.3"/>
<circle cx="832.40" cy="735.85" r="7.9" fill="#ccff00" stroke="#3d5a00" stroke-width="1.3"/>
<circle cx="601.30" cy="864.75" r="7.9" fill="#ccff00" stroke="#3d5a00" stroke-width="1.3"/>
<circle cx="602.40" cy="1021.55" r="7.9" fill="#ccff00" stroke="#3d5a00" stroke-width="1.3"/>
<circle cx="974.30" cy="152.10" r="7.9" fill="#ccff00" stroke="#3d5a00" stroke-width="1.3"/>
<circle cx="974.30" cy="175.10" r="7.9" fill="#ccff00" stroke="#3d5a00" stroke-width="1.3"/>
<circle cx="1166.30" cy="144.35" r="7.9" fill="#c2ccd6" stroke="#2a3036" stroke-width="1.3"/>
<circle cx="974.30" cy="305.90" r="7.9" fill="#ccff00" stroke="#3d5a00" stroke-width="1.3"/>
<circle cx="974.30" cy="328.90" r="7.9" fill="#ccff00" stroke="#3d5a00" stroke-width="1.3"/>
<circle cx="1166.30" cy="298.15" r="7.9" fill="#c2ccd6" stroke="#2a3036" stroke-width="1.3"/>
<circle cx="974.30" cy="459.70" r="7.9" fill="#ccff00" stroke="#3d5a00" stroke-width="1.3"/>
<circle cx="974.30" cy="482.70" r="7.9" fill="#ccff00" stroke="#3d5a00" stroke-width="1.3"/>
<circle cx="1166.30" cy="451.95" r="7.9" fill="#c2ccd6" stroke="#2a3036" stroke-width="1.3"/>
<circle cx="974.30" cy="613.90" r="7.9" fill="#ccff00" stroke="#3d5a00" stroke-width="1.3"/>
<circle cx="974.30" cy="636.90" r="7.9" fill="#ccff00" stroke="#3d5a00" stroke-width="1.3"/>
<circle cx="1166.30" cy="606.15" r="7.9" fill="#c2ccd6" stroke="#2a3036" stroke-width="1.3"/>
<circle cx="974.30" cy="844.80" r="7.9" fill="#ccff00" stroke="#3d5a00" stroke-width="1.3"/>
<circle cx="974.30" cy="867.80" r="7.9" fill="#ccff00" stroke="#3d5a00" stroke-width="1.3"/>
<circle cx="1166.30" cy="837.05" r="7.9" fill="#c2ccd6" stroke="#2a3036" stroke-width="1.3"/>
<circle cx="974.30" cy="998.80" r="7.9" fill="#ccff00" stroke="#3d5a00" stroke-width="1.3"/>
<circle cx="974.30" cy="1021.80" r="7.9" fill="#ccff00" stroke="#3d5a00" stroke-width="1.3"/>
<circle cx="1166.30" cy="991.05" r="7.9" fill="#c2ccd6" stroke="#2a3036" stroke-width="1.3"/>
</svg></body></html>
